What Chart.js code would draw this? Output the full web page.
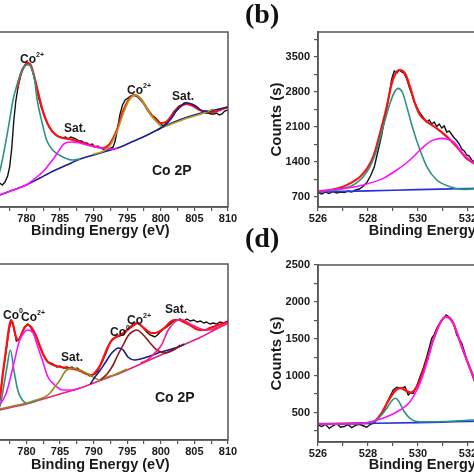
<!DOCTYPE html>
<html>
<head>
<meta charset="utf-8">
<script src="https://cdn.jsdelivr.net/npm/chart.js@4.4.1/dist/chart.umd.min.js"></script>
<style>
  body { margin: 0; width: 474px; height: 474px; overflow: hidden; background: #fff; position: relative; }
  canvas { position: absolute; }
  .t { position: absolute; font: bold 12px "Liberation Sans", Arial, sans-serif; line-height: 12px; color: #1a1a1a; white-space: nowrap; }
  .t sup { font-size: 7px; position: relative; top: -1px; }
  .big { font-size: 14px; line-height: 14px; }
  .panel { position: absolute; font: bold 28px "Liberation Serif", "Times New Roman", serif; line-height: 28px; color: #111; }
</style>
</head>
<body>
<canvas id="chA" width="290" height="240" style="left:-50px;top:0px"></canvas>
<canvas id="chB" width="330" height="240" style="left:240px;top:0px"></canvas>
<canvas id="chC" width="290" height="234" style="left:-50px;top:240px"></canvas>
<canvas id="chD" width="330" height="234" style="left:240px;top:240px"></canvas>

<div class="t" style="left:20px;top:50px">Co<sup>2+</sup></div>
<div class="t" style="left:64px;top:122px">Sat.</div>
<div class="t" style="left:127px;top:81px">Co<sup>2+</sup></div>
<div class="t" style="left:172px;top:90px">Sat.</div>
<div class="t big" style="left:152px;top:163px">Co 2P</div>

<div class="t" style="left:3px;top:306px">Co<sup>0</sup></div>
<div class="t" style="left:21px;top:308px">Co<sup>2+</sup></div>
<div class="t" style="left:61px;top:351px">Sat.</div>
<div class="t" style="left:110px;top:323px">Co<sup>0</sup></div>
<div class="t" style="left:127px;top:311px">Co<sup>2+</sup></div>
<div class="t" style="left:165px;top:303px">Sat.</div>
<div class="t big" style="left:155px;top:390px">Co 2P</div>

<div class="panel" style="left:245px;top:0px">(b)</div>
<div class="panel" style="left:245px;top:224px">(d)</div>

<script>
// ---- panel (a): Co 2p, fresh sample (arbitrary intensity units) ----
const aDataE = [776.0, 776.4, 776.8, 777.2, 777.5, 777.8, 778.1, 778.4, 778.8, 779.2, 779.6, 780.0, 780.3, 780.6, 781.0, 781.4, 781.8, 782.2, 782.6, 783.0, 783.4, 783.8, 784.2, 784.6, 785.0, 785.4, 785.8, 786.2, 786.6, 787.0, 787.4, 787.8, 788.2, 788.6, 789.0, 789.4, 789.8, 790.2, 790.6, 791.0, 791.4, 791.8, 792.2, 792.6, 792.9, 793.2, 793.5, 793.9, 794.3, 794.7, 795.1, 795.5, 795.9, 796.3, 796.7, 797.1, 797.5, 797.9, 798.3, 798.7, 799.1, 799.5, 799.9, 800.3, 800.7, 801.1, 801.5, 801.9, 802.3, 802.7, 803.1, 803.5, 803.9, 804.3, 804.7, 805.1, 805.5, 805.9, 806.3, 806.7, 807.1, 807.5, 807.9, 808.3, 808.7, 809.1, 809.5, 810.0];
const aDataI = [24, 22, 25, 31, 40, 58, 85, 105, 122, 133, 140, 143, 144, 142, 134, 123, 110, 100, 92, 85, 80, 76, 73, 71, 70, 69, 70, 68, 70, 69, 68, 66, 66, 64, 64, 62, 63, 60, 61, 59, 58, 57, 58, 59, 60, 66, 76, 92, 102, 107, 109, 111, 112, 111, 109, 106, 103, 98, 94, 91, 90, 87, 84, 81, 83, 86, 90, 95, 98, 101, 102, 104, 104, 103, 102, 100, 98, 97, 95, 94, 94, 93, 93, 94, 92, 93, 96, 97];
const aFitE = [778.6, 779.2, 779.8, 780.2, 780.7, 781.4, 782.4, 783.4, 784.4, 785.4, 786.4, 787.4, 788.4, 789.4, 790.4, 791.4, 792.4, 793.4, 794.4, 795.4, 796.2, 797.0, 798.0, 799.0, 800.0, 800.8, 801.8, 802.8, 803.8, 804.8, 805.8, 806.8, 807.8, 808.8, 810.0];
const aFitI = [118, 134, 142, 144, 141, 124, 97, 80, 72, 69, 68, 66, 64, 62, 60, 59, 63, 76, 96, 109, 112, 108, 98, 89, 84, 85, 93, 100, 103, 101, 97, 95, 95, 97, 100];
const aBaseE = [770, 773, 776, 778, 780, 782, 784, 786, 788, 790, 792, 794, 796, 798, 800, 802, 804, 806, 808, 810];
const aBaseI = [0, 6, 12, 17, 22, 29, 36, 42, 48, 52, 56, 60, 66, 72, 79, 85, 90, 94, 97, 100];
const aCo2E = [770, 772, 774, 775, 776, 776.7, 777.5, 778, 778.5, 779, 779.5, 780, 780.3, 780.7, 781.2, 781.6, 782.3, 783, 783.9, 785.4, 786.9, 788];
const aCo2I = [1, 5, 14, 22, 35, 57, 87, 107, 120, 131, 139, 142, 142, 140, 128, 107, 85, 67, 57, 50, 47, 48];
const aSatE = [776, 778, 779, 780.2, 781, 781.9, 782.7, 783.4, 784, 784.5, 785, 785.4, 786, 786.7, 787.4, 787.9, 789, 790.4, 791.5, 792.5, 793.5];
const aSatI = [12, 17, 19.5, 23, 27, 32, 37, 43, 48, 53, 58, 62, 64.5, 65, 64.5, 64, 62, 60, 58.5, 58, 58.5];
const aCo2bE = [790, 791.5, 792.5, 793.5, 794.5, 795.3, 796.2, 797, 797.8, 798.6, 799.4, 800.2, 802, 804, 806, 807.8];
const aCo2bI = [53, 56, 62, 76, 95, 107, 112, 108, 100, 91, 85, 80, 84, 89, 93, 98];
const aSat2E = [799.5, 800.5, 801.5, 802.3, 803, 803.8, 804.6, 805.4, 806.2, 807];
const aSat2I = [77, 81, 88, 96, 101, 104, 103, 100, 96, 96];

// ---- panel (c): Co 2p, second sample ----
const cDataE = [774.0, 775.0, 775.5, 776.0, 776.5, 777.0, 777.4, 777.7, 778.0, 778.3, 778.5, 778.9, 779.3, 779.7, 780.2, 780.6, 781.0, 781.5, 782.0, 782.5, 783.2, 784.0, 784.5, 785.0, 785.5, 786.0, 786.4, 786.8, 787.2, 787.6, 787.9, 788.3, 788.7, 789.0, 789.4, 789.8, 790.2, 790.6, 790.9, 791.4, 791.9, 792.3, 792.7, 793.0, 793.4, 793.9, 794.4, 794.9, 795.4, 795.9, 796.4, 796.9, 797.4, 797.9, 798.4, 798.8, 799.1, 799.5, 799.9, 800.4, 800.9, 801.4, 801.9, 802.4, 802.9, 803.4, 803.9, 804.4, 804.9, 805.4, 805.9, 806.4, 806.8, 807.3, 807.8, 808.3, 808.8, 809.4, 810.0];
const cDataI = [29, 31, 34, 40, 67, 90, 110, 119, 115, 106, 99, 100, 107, 113, 116, 113, 108, 103, 93, 85, 78, 76, 73, 74, 72, 73, 72, 73, 71, 72, 70, 69, 67, 66, 64, 65, 66, 69, 73, 80, 88, 95, 100, 102, 103, 104, 107, 110, 113, 116, 117, 115, 112, 108, 105, 104, 103, 105, 108, 111, 113, 116, 119, 120, 121, 119, 121, 119, 120, 118, 119, 117, 118, 116, 117, 116, 118, 117, 119];
const cFitE = [774, 775, 776.0, 776.5, 777.0, 777.4, 777.7, 778.0, 778.4, 778.7, 779.1, 779.6, 780.2, 780.7, 781.3, 782.0, 782.6, 783.2, 784.0, 785.0, 786.0, 787.0, 788.0, 789.0, 789.7, 790.3, 791.0, 791.8, 792.5, 793.3, 794.0, 794.7, 795.4, 796.2, 796.6, 797.3, 798.0, 798.6, 799.2, 799.9, 800.7, 801.4, 802.0, 802.7, 803.4, 804.3, 805.0, 805.8, 806.6, 807.3, 808.2, 809.0, 810.0];
const cFitI = [29, 32, 40, 67, 92, 112, 120, 116, 104, 100, 103, 111, 115, 113, 106, 94, 84, 78, 75, 73, 72, 71, 69, 66, 65, 68, 75, 88, 98, 103, 105, 108, 112, 116, 117, 113, 109, 107, 107, 109, 113, 118, 120, 120, 118, 115, 112, 110, 110, 112, 114, 116, 118];
const cBaseE = [770, 772, 774, 776, 778, 780, 782, 784, 786, 788, 790, 792, 794, 796, 798, 800, 802, 804, 806, 808, 810];
const cBaseI = [20, 24, 27, 30, 33, 36, 40, 44, 48, 52, 57, 62, 67, 73, 79, 85, 91, 97, 103, 110, 117];
const cCo0E = [772, 774, 775, 776, 776.7, 777.1, 777.6, 778.2, 778.7, 779.2, 780.0, 781.0, 782];
const cCo0I = [24, 27, 29, 33, 57, 73, 90, 67, 50, 42, 37, 38, 41];
const cCo2E = [772, 774, 775, 776, 777.0, 778.0, 779.0, 779.7, 780.2, 781.0, 781.7, 782.5, 783.2, 784.2, 785.4, 786.9, 788];
const cCo2I = [24, 28, 31, 35, 47, 73, 100, 108, 110, 107, 93, 77, 63, 55, 50, 50, 52];
const cSatE = [772, 776, 778, 780, 781, 782, 783, 783.5, 784.2, 785, 785.5, 786, 786.9, 787.9, 788.9, 789.9, 790.9, 792, 793, 794, 795];
const cSatI = [25, 31, 34, 37, 39, 41, 44, 47, 53, 60, 66, 70, 72, 70, 67, 63, 60, 63, 65, 68, 71];
const cCo0bE = [789.5, 790.2, 791.0, 791.7, 792.7, 793.7, 794.4, 795.1, 796.1, 797, 798.4, 800, 802.6, 803.5];
const cCo0bI = [56, 63, 70, 77, 87, 92, 90, 83, 80, 81, 84, 88, 93, 96];
const cCo2bE = [791, 792, 792.9, 793.6, 794.4, 795.1, 795.7, 796.4, 797.4, 798.4, 799.4, 800.6, 801.9, 802.9];
const cCo2bI = [60, 66, 75, 85, 95, 104, 108, 110, 105, 97, 90, 87, 90, 95];
const cSat2E = [797, 798, 799.1, 800.1, 801.1, 802.1, 802.6, 803.3, 804.1, 805.6, 806.5, 807.3, 808.6, 810];
const cSat2I = [77, 80, 87, 95, 110, 118, 120, 120, 117, 112, 110, 110, 113, 117];

// ---- panel (b): O 1s, counts ----
const bDataE = [526.0, 526.15, 526.3, 526.45, 526.6, 526.75, 526.9, 527.05, 527.2, 527.35, 527.5, 527.65, 527.8, 527.95, 528.1, 528.25, 528.4, 528.55, 528.7, 528.85, 528.95, 529.05, 529.15, 529.25, 529.35, 529.45, 529.55, 529.65, 529.75, 529.85, 529.95, 530.05, 530.15, 530.25, 530.35, 530.45, 530.55, 530.65, 530.75, 530.85, 530.95, 531.05, 531.15, 531.25, 531.35, 531.45, 531.55, 531.65, 531.75, 531.85, 531.95, 532.05, 532.15, 532.3, 532.5, 532.8, 533.2, 533.8, 534.5, 535.3, 536.0];
const bDataC = [790, 760, 800, 770, 810, 780, 800, 790, 820, 800, 840, 860, 910, 990, 1120, 1300, 1620, 1950, 2350, 2750, 3060, 3220, 3180, 3240, 3200, 3170, 3060, 2900, 2760, 2600, 2500, 2400, 2330, 2260, 2200, 2240, 2160, 2200, 2110, 2160, 2080, 2120, 2000, 2020, 1950, 1880, 1830, 1760, 1660, 1620, 1540, 1520, 1440, 1380, 1280, 1170, 1060, 960, 920, 900, 890];
const bFitE = [526.0, 526.48, 527.0, 527.28, 527.6, 527.81, 528.0, 528.21, 528.48, 528.75, 528.95, 529.15, 529.28, 529.48, 529.68, 529.88, 530.08, 530.35, 530.75, 531.15, 531.55, 531.95, 532.24, 532.6, 533.0, 533.5, 534, 535, 536];
const bFitC = [815, 840, 905, 973, 1070, 1173, 1300, 1507, 1973, 2507, 2973, 3207, 3240, 3173, 2907, 2573, 2340, 2207, 2073, 1907, 1707, 1473, 1373, 1230, 1100, 1000, 950, 910, 900];
const bBaseE = [526, 528, 530, 532, 534, 536];
const bBaseC = [800, 823, 847, 870, 893, 917];
const bLatE = [526.0, 526.88, 527.41, 527.81, 528.08, 528.35, 528.61, 528.88, 529.05, 529.21, 529.38, 529.55, 529.81, 530.08, 530.35, 530.75, 531.28, 531.81, 532.5, 533.5, 536];
const bLatC = [815, 853, 940, 1107, 1307, 1640, 2107, 2573, 2790, 2873, 2790, 2507, 2040, 1640, 1307, 1040, 907, 853, 870, 890, 917];
const bOhE = [526.0, 526.48, 527.2, 527.81, 528.61, 529.15, 529.68, 530.08, 530.48, 530.72, 530.95, 531.18, 531.41, 531.81, 532.24, 532.6, 533, 533.5, 534, 535, 536];
const bOhC = [805, 840, 880, 940, 1073, 1240, 1440, 1640, 1807, 1855, 1873, 1855, 1807, 1560, 1373, 1200, 1080, 990, 940, 920, 917];

// ---- panel (d): O 1s, second sample ----
const dDataE = [526.0, 526.15, 526.3, 526.45, 526.6, 526.75, 526.9, 527.05, 527.2, 527.35, 527.5, 527.65, 527.8, 527.95, 528.1, 528.25, 528.41, 528.61, 528.81, 529.01, 529.15, 529.25, 529.35, 529.48, 529.61, 529.71, 529.81, 529.95, 530.08, 530.22, 530.35, 530.45, 530.55, 530.65, 530.75, 530.85, 530.95, 531.05, 531.12, 531.22, 531.35, 531.45, 531.55, 531.65, 531.75, 531.85, 531.95, 532.05, 532.15, 532.24, 532.4, 532.6, 532.9, 533.3, 533.8, 534.5, 535.3, 536.0];
const dDataC = [330, 310, 340, 285, 320, 350, 300, 310, 335, 295, 325, 340, 320, 300, 340, 360, 421, 511, 670, 805, 842, 830, 828, 850, 737, 770, 760, 860, 985, 1110, 1256, 1380, 1506, 1560, 1641, 1700, 1754, 1790, 1822, 1800, 1754, 1680, 1551, 1500, 1438, 1330, 1212, 1130, 1032, 941, 800, 640, 500, 420, 390, 380, 385, 390];
const dFitE = [526.0, 527.0, 527.8, 528.2, 528.5, 528.8, 529.1, 529.3, 529.5, 529.7, 530.0, 530.3, 530.61, 530.88, 531.12, 531.41, 531.68, 531.95, 532.24, 532.6, 533.0, 533.5, 534, 535, 536];
const dFitC = [345, 350, 355, 370, 470, 650, 800, 830, 800, 770, 880, 1150, 1483, 1710, 1800, 1710, 1460, 1212, 964, 680, 500, 420, 400, 395, 395];
const dBaseE = [526, 528, 530, 531, 532, 534, 536];
const dBaseC = [342, 352, 363, 370, 378, 390, 400];
const dLatE = [526, 527.5, 528.21, 528.48, 528.75, 528.95, 529.08, 529.22, 529.41, 529.68, 530.08, 531.01, 532.24, 534, 536];
const dLatC = [342, 350, 375, 443, 557, 660, 693, 660, 534, 421, 375, 378, 398, 410, 415];
const dOhE = [526, 527.68, 528.75, 529.28, 529.68, 530.08, 530.35, 530.61, 530.88, 531.0, 531.12, 531.25, 531.41, 531.68, 531.95, 532.24, 532.6, 533, 533.5, 534, 535, 536];
const dOhC = [342, 350, 443, 534, 646, 896, 1167, 1483, 1710, 1775, 1800, 1780, 1710, 1460, 1212, 964, 680, 500, 430, 405, 400, 400];

// ticks (labels only on the major ones)
const coTicks = [775, 777.5, 780, 782.5, 785, 787.5, 790, 792.5, 795, 797.5, 800, 802.5, 805, 807.5, 810];
const coLabels = [780, 785, 790, 795, 800, 805, 810];
const oTicks = [526, 527, 528, 529, 530, 531, 532, 533, 534, 535];
const oLabels = [526, 528, 530, 532, 534];
const bYTicks = [700, 1050, 1400, 1750, 2100, 2450, 2800, 3150, 3500, 3850];
const bYLabels = [700, 1400, 2100, 2800, 3500];
const dYTicks = [250, 500, 750, 1000, 1250, 1500, 1750, 2000, 2250, 2500];
const dYLabels = [500, 1000, 1500, 2000, 2500];

const FAM = "'Liberation Sans', Arial, sans-serif";
const AXIS = '#555';
const TXT = '#1a1a1a';

function pts(xs, ys) {
  return xs.map((x, i) => ({ x: x, y: ys[i] }));
}

function curve(xs, ys, color, width, smooth) {
  return {
    data: pts(xs, ys),
    borderColor: color,
    borderWidth: width,
    pointRadius: 0,
    fill: false,
    tension: 0,
    cubicInterpolationMode: smooth ? 'monotone' : 'default'
  };
}

// box round the plot
const frame = {
  id: 'frame',
  afterDraw(chart) {
    const a = chart.chartArea, c = chart.ctx;
    c.save();
    c.strokeStyle = AXIS;
    c.lineWidth = 1.5;
    c.strokeRect(a.left, a.top, a.right - a.left, a.bottom - a.top);
    c.restore();
  }
};

const near = (list, v) => list.some(m => Math.abs(m - v) < 1e-6);

function xAxis(min, max, ticks, labels, h) {
  return {
    type: 'linear', min: min, max: max,
    afterBuildTicks: s => { s.ticks = ticks.map(v => ({ value: v })); },
    afterFit: s => { s.height = h; },
    ticks: {
      autoSkip: false, maxRotation: 0, minRotation: 0, padding: 1, color: TXT,
      font: { family: FAM, size: 11, weight: 'bold' },
      callback: v => (near(labels, v) ? String(v) : '')
    },
    grid: { drawOnChartArea: false, tickLength: 4, color: AXIS, lineWidth: 1.2 },
    border: { color: AXIS, width: 1.5 },
    title: {
      display: true, text: 'Binding Energy (eV)', color: TXT,
      font: { family: FAM, size: 14.5, weight: 'bold' }, padding: { top: 0, bottom: 0 }
    }
  };
}

function yCounts(min, max, ticks, labels) {
  return {
    type: 'linear', min: min, max: max,
    afterBuildTicks: s => { s.ticks = ticks.map(v => ({ value: v })); },
    afterFit: s => { s.width = 78; },
    ticks: {
      autoSkip: false, padding: 4, color: TXT,
      font: { family: FAM, size: 11, weight: 'bold' },
      callback: v => (near(labels, v) ? String(v) : '')
    },
    grid: { drawOnChartArea: false, tickLength: 4, color: AXIS, lineWidth: 1.2 },
    border: { color: AXIS, width: 1.5 },
    title: {
      display: true, text: 'Counts (s)', color: TXT,
      font: { family: FAM, size: 15, weight: 'bold' }, padding: { top: 28, bottom: 0 }
    }
  };
}

function makeChart(id, datasets, x, y, pad) {
  return new Chart(document.getElementById(id), {
    type: 'line',
    data: { datasets: datasets },
    options: {
      responsive: false, animation: false, devicePixelRatio: 1,
      layout: { padding: pad },
      plugins: { legend: { display: false }, tooltip: { enabled: false } },
      scales: { x: x, y: y }
    },
    plugins: [frame]
  });
}

// (a)
makeChart('chA', [
  curve(aSat2E, aSat2I, '#1c1c8a', 1.6, true),
  curve(aCo2bE, aCo2bI, '#a6a020', 1.6, true),
  curve(aSatE, aSatI, '#ff10ff', 1.6, true),
  curve(aCo2E, aCo2I, '#2a9482', 1.6, true),
  curve(aBaseE, aBaseI, '#1c1c8a', 1.6, true),
  curve(aFitE, aFitI, '#ff1010', 2.2, true),
  curve(aDataE, aDataI, '#111111', 1.4, false)
], xAxis(772, 810, coTicks, coLabels, 33), { display: false, min: 0, max: 175 },
  { left: 22.7, right: 12, top: 32, bottom: 0 });

// (c)
makeChart('chC', [
  curve(cSat2E, cSat2I, '#ff1a8c', 1.6, true),
  curve(cCo2bE, cCo2bI, '#8b1c1c', 1.6, true),
  curve(cCo0bE, cCo0bI, '#1c1c8a', 1.6, true),
  curve(cSatE, cSatI, '#8f8f20', 1.6, true),
  curve(cCo2E, cCo2I, '#ff10ff', 1.6, true),
  curve(cCo0E, cCo0I, '#2a9482', 1.6, true),
  curve(cBaseE, cBaseI, '#e8207a', 1.6, true),
  curve(cFitE, cFitI, '#ff1010', 2.2, true),
  curve(cDataE, cDataI, '#111111', 1.4, false)
], xAxis(772, 810, coTicks, coLabels, 34), { display: false, min: 0, max: 176 },
  { left: 22.7, right: 12, top: 24, bottom: 0 });

// (b)
makeChart('chB', [
  curve(bOhE, bOhC, '#ff10ff', 1.6, true),
  curve(bLatE, bLatC, '#2a9482', 1.6, true),
  curve(bBaseE, bBaseC, '#2a30e0', 1.6, true),
  curve(bFitE, bFitC, '#ff1010', 2.2, true),
  curve(bDataE, bDataC, '#111111', 1.4, false)
], xAxis(526, 535.6, oTicks, oLabels, 33), yCounts(500, 4000, bYTicks, bYLabels),
  { left: 0, right: 12, top: 32, bottom: 0 });

// (d)
makeChart('chD', [
  curve(dOhE, dOhC, '#ff10ff', 1.6, true),
  curve(dLatE, dLatC, '#2a9482', 1.6, true),
  curve(dBaseE, dBaseC, '#2a30e0', 1.6, true),
  curve(dFitE, dFitC, '#ff1010', 2.2, true),
  curve(dDataE, dDataC, '#111111', 1.4, false)
], xAxis(526, 535.6, oTicks, oLabels, 32), yCounts(100, 2500, dYTicks, dYLabels),
  { left: 0, right: 12, top: 25, bottom: 0 });
</script>
</body>
</html>
